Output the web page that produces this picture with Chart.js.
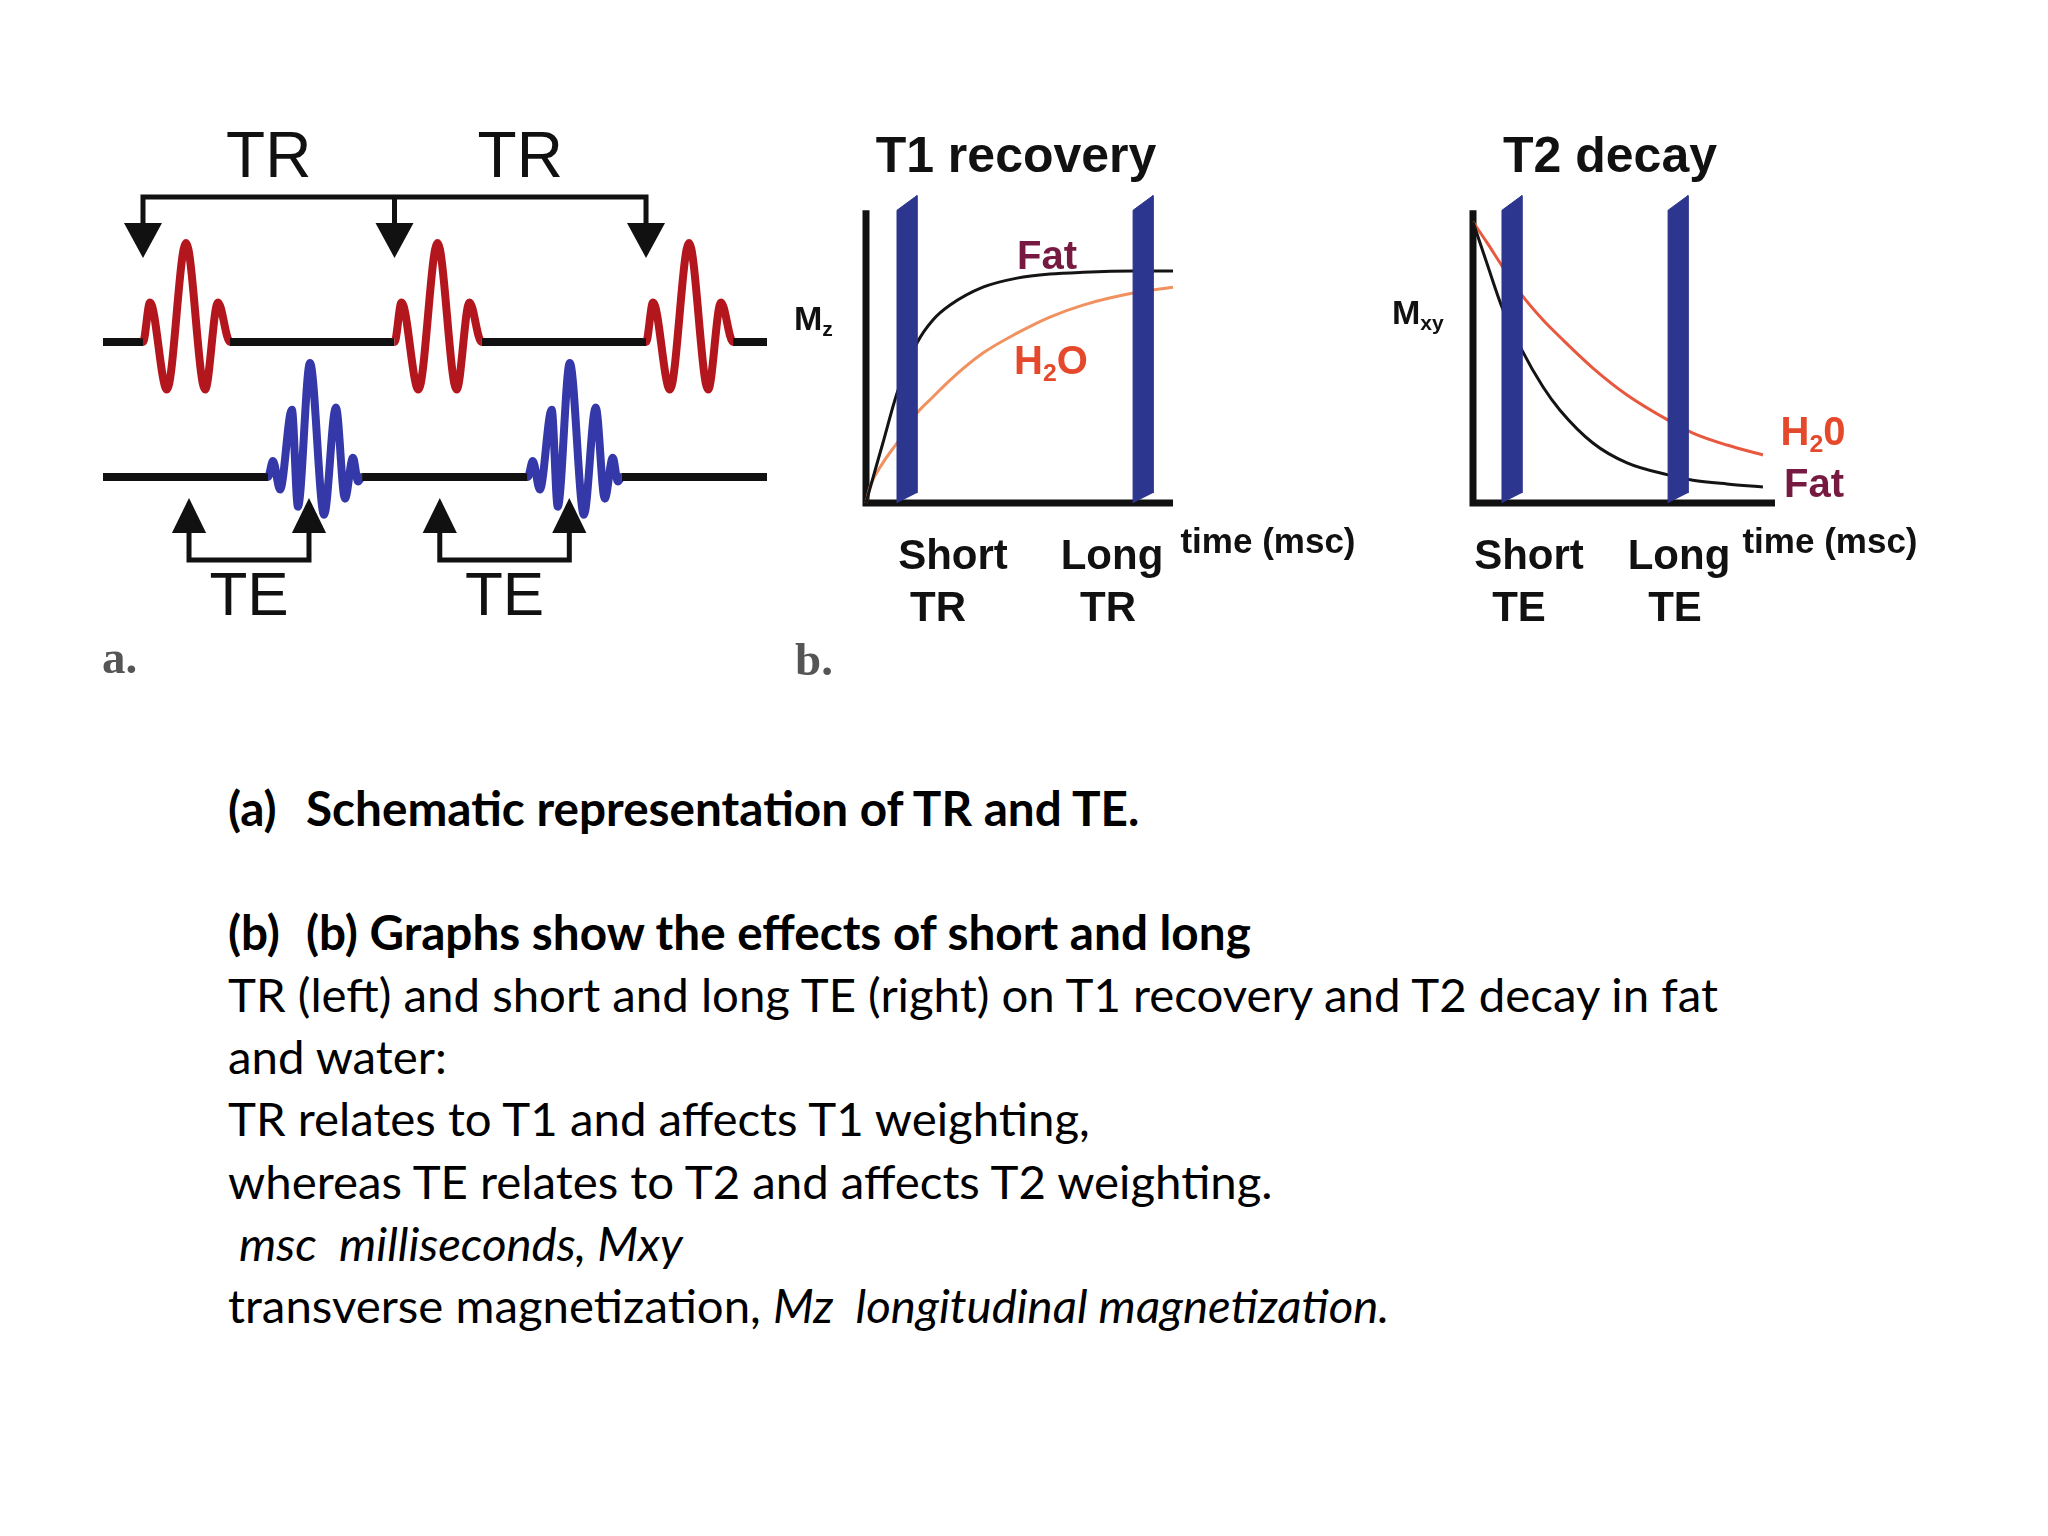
<!DOCTYPE html>
<html>
<head>
<meta charset="utf-8">
<script src="https://cdn.jsdelivr.net/npm/chart.js@4.4.1/dist/chart.umd.min.js"></script>
<style>
  html, body { margin: 0; padding: 0; background: #fff; }
  #page { position: relative; width: 2048px; height: 1536px; overflow: hidden; background: #fff;
          font-family: "Liberation Sans", Arial, sans-serif; color: #111; }
  canvas { position: absolute; }
  .lbl { position: absolute; line-height: 1; white-space: nowrap; font-weight: bold;
         transform: translate(-50%, -50%); }
  .lbl.left { transform: translate(0, -50%); }
  .lbl sub { position: relative; top: 0.28em; font-size: 0.62em; vertical-align: baseline; }
  .panel { font-family: "Liberation Serif", serif; font-weight: bold; color: #555; font-size: 47px; }
  #caption { position: absolute; left: 228px; top: 777px; font-family: Lato, "Open Sans", sans-serif;
             font-size: 46px; line-height: 62.1px; color: #000; white-space: nowrap; }
  #caption .b { font-weight: bold; }
  #caption .num { display: inline-block; width: 78px; }
</style>
</head>
<body>
<div id="page">
  <canvas id="seq" width="800" height="600" style="left:0;top:100px"></canvas>
  <canvas id="t1" width="480" height="520" style="left:760px;top:100px"></canvas>
  <canvas id="t2" width="560" height="520" style="left:1380px;top:100px"></canvas>

  <div class="lbl left panel" style="left:102px;top:657px">a.</div>
  <div class="lbl left panel" style="left:795px;top:659px">b.</div>

  <!-- T1 recovery labels -->
  <div class="lbl" style="left:1016px;top:155px;font-size:50px">T1 recovery</div>
  <div class="lbl left" style="left:794px;top:318px;font-size:34px">M<sub>z</sub></div>
  <div class="lbl" style="left:1047px;top:255px;font-size:40px;color:#761a42">Fat</div>
  <div class="lbl" style="left:1051px;top:360px;font-size:40px;color:#e5492c">H<sub>2</sub>O</div>
  <div class="lbl" style="left:1268px;top:540px;font-size:35px">time (msc)</div>
  <div class="lbl" style="left:953px;top:555px;font-size:42px">Short</div>
  <div class="lbl" style="left:938px;top:607px;font-size:42px">TR</div>
  <div class="lbl" style="left:1112px;top:555px;font-size:42px">Long</div>
  <div class="lbl" style="left:1108px;top:607px;font-size:42px">TR</div>

  <!-- T2 decay labels -->
  <div class="lbl" style="left:1610px;top:155px;font-size:50px">T2 decay</div>
  <div class="lbl left" style="left:1392px;top:312px;font-size:34px">M<sub>xy</sub></div>
  <div class="lbl" style="left:1813px;top:431px;font-size:40px;color:#e5492c">H<sub>2</sub>0</div>
  <div class="lbl" style="left:1814px;top:483px;font-size:40px;color:#761a42">Fat</div>
  <div class="lbl" style="left:1830px;top:540px;font-size:35px">time (msc)</div>
  <div class="lbl" style="left:1529px;top:555px;font-size:42px">Short</div>
  <div class="lbl" style="left:1519px;top:607px;font-size:42px">TE</div>
  <div class="lbl" style="left:1679px;top:555px;font-size:42px">Long</div>
  <div class="lbl" style="left:1675px;top:607px;font-size:42px">TE</div>

  <div id="caption">
    <div class="b"><span class="num">(a)</span>Schematic representation of TR and TE.</div>
    <div>&nbsp;</div>
    <div class="b"><span class="num">(b)</span><span id="boldRef">(b) Graphs show the effects of short and long</span></div>
    <div><span id="textRef">TR (left) and short and long TE (right) on T1 recovery and T2 decay in fat</span></div>
    <div>and water:</div>
    <div>TR relates to T1 and affects T1 weighting,</div>
    <div>whereas TE relates to T2 and affects T2 weighting.</div>
    <div><i>&nbsp;msc&nbsp; milliseconds, Mxy</i></div>
    <div>transverse magnetization, <i>Mz&nbsp; longitudinal magnetization.</i></div>
  </div>
</div>

<script>
// ---- panel a: pulse sequence (time in TR/100 units, amplitude relative to biggest lobe)
const lineStart = -15.9;
const lineEnd = 248.1;
const rfPulseStarts = [0, 100, 200];
const rfShapeT = [0, 2.8, 9.5, 17.1, 24.7, 29.8, 34.6];
const rfShapeA = [0, 0.40, -0.48, 1.0, -0.48, 0.40, 0];
const echoStarts = [49.7, 153];
const echoShapeT = [0, 2.0, 4.8, 9.5, 11.9, 16.7, 22.3, 27.0, 30.6, 33.8, 35.8, 37.4];
const echoShapeA = [0, 0.14, -0.11, 0.59, -0.26, 1.0, -0.33, 0.61, -0.19, 0.17, -0.04, 0];
const trMarks = [0, 100, 200];
const teStart = [18.3, 118];
const teEnd = [66, 169.5];

// ---- panel b: T1 recovery (time 0-100, Mz 0-1)
const t1Time = [0, 1.3, 5.5, 10.1, 16.6, 21.8, 27.4, 38.1, 49.2, 59.9, 70.7, 87.0, 100];
const t1Fat = [0, 0.05, 0.205, 0.375, 0.546, 0.625, 0.676, 0.737, 0.768, 0.782, 0.788, 0.792, 0.792];
const t1Water = [0, 0.055, 0.137, 0.205, 0.307, 0.362, 0.420, 0.512, 0.580, 0.635, 0.676, 0.717, 0.737];
const t1BarLeft = [10.1, 87.0];
const t1BarRight = [16.6, 93.5];

// ---- panel b: T2 decay (time 0-100, Mxy 0-1)
const t2Time = [0, 4.6, 9.6, 16.2, 23.2, 28.8, 39.7, 51.0, 64.6, 72.8, 84.1, 96.0];
const t2Water = [0.96, 0.89, 0.81, 0.710, 0.625, 0.567, 0.461, 0.369, 0.283, 0.239, 0.198, 0.164];
const t2Fat = [0.96, 0.819, 0.669, 0.522, 0.396, 0.317, 0.205, 0.137, 0.096, 0.078, 0.065, 0.055];
const t2BarLeft = [9.6, 64.6];
const t2BarRight = [16.2, 71.2];

// slanted slab: bottom/top at left edge and right edge
const barBottom = [0, 0.034];
const barTop = [1.0, 1.05];

const RED = '#b3171d';
const BLUE = '#3438a8';
const NAVY = '#2d368e';
const INK = '#111';

function buildTrace(starts, shapeT, shapeA) {
  const pts = [{ x: lineStart, y: 0 }];
  starts.forEach(s => shapeT.forEach((t, i) => pts.push({ x: s + t, y: shapeA[i] })));
  pts.push({ x: lineEnd, y: 0 });
  return pts;
}

function zip(xs, ys) {
  return xs.map((x, i) => ({ x, y: ys[i] }));
}

function arrowHead(ctx, px, tipY, dir, w, h) {
  // dir = 1 points down, -1 points up
  ctx.beginPath();
  ctx.moveTo(px, tipY);
  ctx.lineTo(px - w / 2, tipY - dir * h);
  ctx.lineTo(px + w / 2, tipY - dir * h);
  ctx.closePath();
  ctx.fill();
}

const pulseMarks = {
  id: 'pulseMarks',
  afterDatasetsDraw(chart, args, opts) {
    const { ctx, scales: { x, yRF, yEcho } } = chart;
    ctx.save();
    ctx.strokeStyle = INK;
    ctx.fillStyle = INK;
    ctx.lineWidth = 5;
    ctx.lineJoin = 'miter';

    // TR bracket with down arrows
    const yb = yRF.getPixelForValue(opts.trBracket);
    const tip = yRF.getPixelForValue(opts.trTip);
    const base = tip - opts.headH;
    const xs = trMarks.map(t => x.getPixelForValue(t));
    ctx.beginPath();
    ctx.moveTo(xs[0], base);
    ctx.lineTo(xs[0], yb);
    ctx.lineTo(xs[xs.length - 1], yb);
    ctx.lineTo(xs[xs.length - 1], base);
    xs.slice(1, -1).forEach(px => { ctx.moveTo(px, yb); ctx.lineTo(px, base); });
    ctx.stroke();
    xs.forEach(px => arrowHead(ctx, px, tip, 1, opts.headW, opts.headH));

    // TE brackets with up arrows
    const eb = yEcho.getPixelForValue(opts.teBracket);
    const etip = yEcho.getPixelForValue(opts.teTip);
    const ebase = etip + opts.headH;
    teStart.forEach((s, i) => {
      const a = x.getPixelForValue(s), b = x.getPixelForValue(teEnd[i]);
      ctx.beginPath();
      ctx.moveTo(a, ebase);
      ctx.lineTo(a, eb);
      ctx.lineTo(b, eb);
      ctx.lineTo(b, ebase);
      ctx.stroke();
      arrowHead(ctx, a, etip, -1, opts.headW * 0.9, opts.headH);
      arrowHead(ctx, b, etip, -1, opts.headW * 0.9, opts.headH);
    });

    // labels
    ctx.textAlign = 'center';
    ctx.textBaseline = 'middle';
    ctx.font = '64px "Liberation Sans", Arial, sans-serif';
    for (let i = 0; i < trMarks.length - 1; i++) {
      const mid = (trMarks[i] + trMarks[i + 1]) / 2;
      ctx.fillText('TR', x.getPixelForValue(mid), yRF.getPixelForValue(opts.trLabel));
    }
    ctx.font = '62px "Liberation Sans", Arial, sans-serif';
    teStart.forEach((s, i) => {
      const mid = (s + teEnd[i]) / 2;
      ctx.fillText('TE', x.getPixelForValue(mid), yEcho.getPixelForValue(opts.teLabel));
    });
    ctx.restore();
  }
};

const axesLines = {
  id: 'axesLines',
  beforeDatasetsDraw(chart) {
    const { ctx, scales: { x, y } } = chart;
    const x0 = x.getPixelForValue(x.min), x1 = x.getPixelForValue(x.max);
    const y0 = y.getPixelForValue(0), y1 = y.getPixelForValue(1);
    ctx.save();
    ctx.strokeStyle = INK;
    ctx.lineWidth = 7;
    ctx.lineJoin = 'miter';
    ctx.beginPath();
    ctx.moveTo(x0, y1);
    ctx.lineTo(x0, y0);
    ctx.lineTo(x1, y0);
    ctx.stroke();
    ctx.restore();
  }
};

const isBaseline = c => c.p0.parsed.y === 0 && c.p1.parsed.y === 0;

new Chart(document.getElementById('seq'), {
  type: 'scatter',
  data: {
    datasets: [
      {
        label: 'RF',
        data: buildTrace(rfPulseStarts, rfShapeT, rfShapeA),
        yAxisID: 'yRF',
        showLine: true,
        borderColor: RED,
        borderWidth: 8,
        pointRadius: 0,
        tension: 0.4,
        cubicInterpolationMode: 'monotone',
        segment: { borderColor: c => isBaseline(c) ? INK : RED }
      },
      {
        label: 'Echo',
        data: buildTrace(echoStarts, echoShapeT, echoShapeA),
        yAxisID: 'yEcho',
        showLine: true,
        borderColor: BLUE,
        borderWidth: 8,
        pointRadius: 0,
        tension: 0.4,
        cubicInterpolationMode: 'monotone',
        segment: { borderColor: c => isBaseline(c) ? INK : BLUE }
      }
    ]
  },
  options: {
    responsive: false,
    animation: false,
    events: [],
    layout: { padding: { left: 103, right: 33, top: 0, bottom: 0 } },
    plugins: {
      legend: { display: false },
      tooltip: { enabled: false },
      pulseMarks: { trBracket: 1.465, trTip: 0.848, trLabel: 1.84,
                    teBracket: -0.728, teTip: -0.184, teLabel: -1.06,
                    headW: 38, headH: 35 }
    },
    scales: {
      x: { type: 'linear', min: lineStart, max: lineEnd, display: false },
      yRF: { type: 'linear', min: -3.616, max: 2.444, display: false },
      yEcho: { type: 'linear', min: -1.956, max: 3.307, display: false }
    }
  },
  plugins: [pulseMarks]
});

function slabs(lefts, rights) {
  return lefts.map((l, i) => ({
    data: [
      { x: l, y: barBottom[0] }, { x: l, y: barTop[0] },
      { x: rights[i], y: barTop[1] }, { x: rights[i], y: barBottom[1] }
    ],
    showLine: true,
    fill: 'shape',
    backgroundColor: NAVY,
    borderColor: NAVY,
    borderWidth: 1,
    pointRadius: 0,
    tension: 0,
    clip: false,
    order: 0
  }));
}

function curve(xs, ys, color) {
  return {
    data: zip(xs, ys),
    showLine: true,
    borderColor: color,
    borderWidth: 3,
    pointRadius: 0,
    tension: 0.4,
    cubicInterpolationMode: 'monotone',
    clip: false,
    order: 1
  };
}

function relaxOptions(padLeft, padRight) {
  return {
    responsive: false,
    animation: false,
    events: [],
    // plot area spans 195..503 px so the slanted slab tops stay inside it
    layout: { padding: { left: padLeft, right: padRight, top: 95, bottom: 117 } },
    plugins: { legend: { display: false }, tooltip: { enabled: false } },
    scales: {
      x: { type: 'linear', min: 0, max: 100, display: false },
      y: { type: 'linear', min: 0, max: 1.052, display: false }
    }
  };
}

new Chart(document.getElementById('t1'), {
  type: 'scatter',
  data: {
    datasets: [
      ...slabs(t1BarLeft, t1BarRight),
      curve(t1Time, t1Fat, '#141414'),
      curve(t1Time, t1Water, '#f0915f')
    ]
  },
  options: relaxOptions(106, 67),
  plugins: [axesLines]
});

new Chart(document.getElementById('t2'), {
  type: 'scatter',
  data: {
    datasets: [
      ...slabs(t2BarLeft, t2BarRight),
      curve(t2Time, t2Fat, '#141414'),
      curve(t2Time, t2Water, '#e8583f')
    ]
  },
  options: relaxOptions(93, 165),
  plugins: [axesLines]
});

// fit caption font so line widths match the slide text
function fitCaption() {
  const cap = document.getElementById('caption');
  const base = parseFloat(getComputedStyle(cap).fontSize);
  const w = document.getElementById('textRef').getBoundingClientRect().width;
  const size = base * 1490 / w;
  cap.style.fontSize = size + 'px';
  const bw = document.getElementById('boldRef').getBoundingClientRect().width;
  const bsize = size * 945 / bw;
  cap.querySelectorAll('.b').forEach(el => { el.style.fontSize = bsize + 'px'; });
}
if (document.fonts && document.fonts.ready) {
  document.fonts.ready.then(fitCaption);
} else {
  fitCaption();
}
</script>
</body>
</html>
